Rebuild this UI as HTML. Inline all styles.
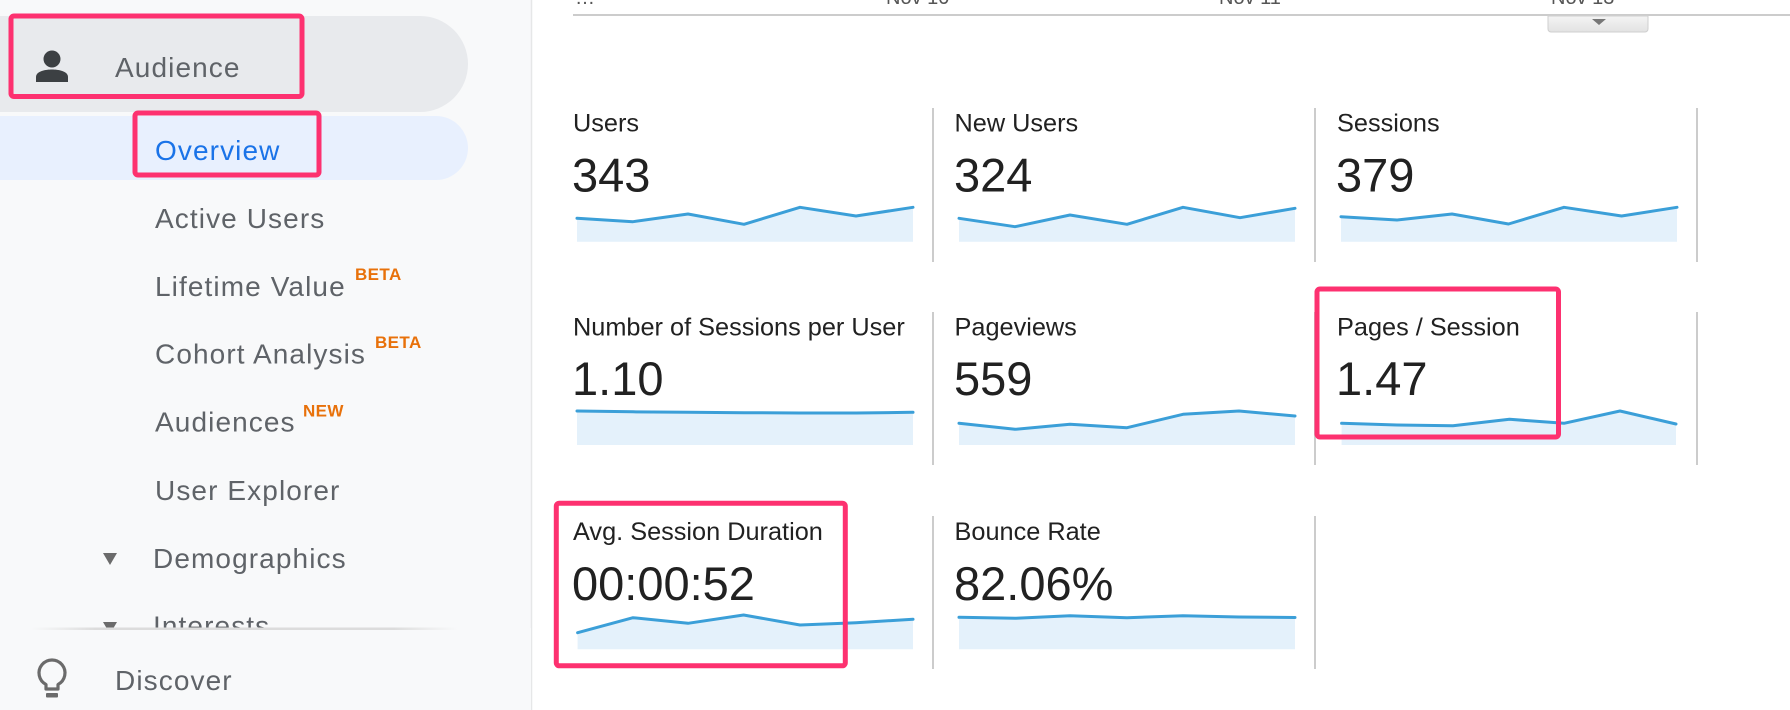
<!DOCTYPE html>
<html>
<head>
<meta charset="utf-8">
<style>
html,body{margin:0;padding:0;background:#fff;}
body{width:1790px;height:710px;overflow:hidden;}
svg{display:block;}
.side{font-family:"Liberation Sans",Arial,sans-serif;font-size:28px;letter-spacing:1.1px;fill:#5f6368;}
.badge{font-family:"Liberation Sans",Arial,sans-serif;font-size:17px;font-weight:bold;letter-spacing:0.4px;fill:#e8710a;}
.lbl{font-family:"Liberation Sans",Arial,sans-serif;font-size:25.3px;fill:#212121;}
.val{font-family:"Liberation Sans",Arial,sans-serif;font-size:47px;fill:#212121;}
.ax{font-family:"Liberation Sans",Arial,sans-serif;font-size:20px;fill:#555;}
.area{fill:#e4f1fb;stroke:none;}
.ln{fill:none;stroke:#3b9fd8;stroke-width:3;stroke-linejoin:round;stroke-linecap:round;}
.dv{stroke:#cccccc;stroke-width:2;}
.rb{fill:none;stroke:#fd3170;stroke-width:5;}
</style>
</head>
<body>
<svg width="1790" height="710" viewBox="0 0 1790 710" xmlns="http://www.w3.org/2000/svg">
  <defs>
    <linearGradient id="sh" x1="0" x2="1" y1="0" y2="0">
      <stop offset="0" stop-color="#e2e2e2" stop-opacity="0"/>
      <stop offset="0.15" stop-color="#dcdcdc" stop-opacity="1"/>
      <stop offset="0.85" stop-color="#dcdcdc" stop-opacity="1"/>
      <stop offset="1" stop-color="#e2e2e2" stop-opacity="0"/>
    </linearGradient>
    <linearGradient id="tab" x1="0" x2="0" y1="0" y2="1">
      <stop offset="0" stop-color="#f4f4f4"/>
      <stop offset="1" stop-color="#e2e2e2"/>
    </linearGradient>
  </defs>

  <!-- backgrounds -->
  <rect x="0" y="0" width="1790" height="710" fill="#ffffff"/>
  <rect x="0" y="0" width="531" height="710" fill="#f8f9fa"/>
  <line x1="531.5" y1="0" x2="531.5" y2="710" stroke="#e6e7e8" stroke-width="1.5"/>

  <!-- sidebar pills -->
  <path d="M0 16 H420 A48 48 0 0 1 420 112 H0 Z" fill="#e8eaed"/>
  <path d="M0 116 H436 A32 32 0 0 1 436 180 H0 Z" fill="#e8f0fe"/>

  <!-- person icon -->
  <circle cx="52" cy="59" r="8.5" fill="#3c4043"/>
  <path d="M36 82 V77 C36 71 46 69.5 52 69.5 C58 69.5 68 71 68 77 V82 Z" fill="#3c4043"/>

  <!-- sidebar texts -->
  <text class="side" x="115" y="77">Audience</text>
  <text class="side" x="155" y="160" style="fill:#1a73e8">Overview</text>
  <text class="side" x="155" y="228">Active Users</text>
  <text class="side" x="155" y="296">Lifetime Value</text>
  <text class="badge" x="355" y="280">BETA</text>
  <text class="side" x="155" y="363.5">Cohort Analysis</text>
  <text class="badge" x="375" y="348">BETA</text>
  <text class="side" x="155" y="431.5">Audiences</text>
  <text class="badge" x="303" y="416.5">NEW</text>
  <text class="side" x="155" y="500">User Explorer</text>
  <polygon points="103,553 117,553 110,565" fill="#6b6b6b"/>
  <text class="side" x="153" y="568">Demographics</text>
  <polygon points="103,622 117,622 110,634" fill="#6b6b6b"/>
  <text class="side" x="153" y="635.5">Interests</text>

  <!-- cover below interests -->
  <rect x="0" y="628" width="531" height="82" fill="#f8f9fa"/>
  <rect x="31" y="627.5" width="427" height="2.5" fill="url(#sh)"/>

  <!-- bulb icon -->
  <path d="M46 689 V684.5 A13 13 0 1 1 58 684.5 V689 Z" fill="none" stroke="#6b6b6b" stroke-width="3.2" stroke-linejoin="round"/>
  <rect x="46" y="693" width="12" height="4.5" rx="1" fill="#6b6b6b"/>
  <text class="side" x="115" y="690">Discover</text>

  <!-- top axis -->
  <text class="ax" x="575" y="4">…</text>
  <text class="ax" x="886" y="4">Nov 10</text>
  <text class="ax" x="1219" y="4">Nov 11</text>
  <text class="ax" x="1551" y="4">Nov 13</text>
  <line x1="573" y1="15" x2="1790" y2="15" stroke="#cccccc" stroke-width="2"/>
  <path d="M1548 16 H1648 V29 A3 3 0 0 1 1645 32 H1551 A3 3 0 0 1 1548 29 Z" fill="url(#tab)" stroke="#cfcfcf" stroke-width="1"/>
  <polygon points="1592,19 1606,19 1599,25" fill="#777"/>

  <!-- dividers -->
  <line class="dv" x1="933" y1="108" x2="933" y2="262"/>
  <line class="dv" x1="1315" y1="108" x2="1315" y2="262"/>
  <line class="dv" x1="1697" y1="108" x2="1697" y2="262"/>
  <line class="dv" x1="933" y1="312" x2="933" y2="465"/>
  <line class="dv" x1="1315" y1="312" x2="1315" y2="465"/>
  <line class="dv" x1="1697" y1="312" x2="1697" y2="465"/>
  <line class="dv" x1="933" y1="516" x2="933" y2="669"/>
  <line class="dv" x1="1315" y1="516" x2="1315" y2="669"/>

  <!-- Row 1 -->
  <text class="lbl" x="573" y="131.7">Users</text>
  <text class="val" x="572" y="191.7">343</text>
  <path class="area" d="M577 218.3 L633 221.7 L688 214 L744 224.3 L800 207.3 L856 216 L913 207.3 L913 241.7 L577 241.7 Z"/>
  <path class="ln" d="M577 218.3 L633 221.7 L688 214 L744 224.3 L800 207.3 L856 216 L913 207.3"/>

  <text class="lbl" x="954.5" y="131.7">New Users</text>
  <text class="val" x="954" y="191.7">324</text>
  <path class="area" d="M959 218.3 L1015 226.7 L1070 215 L1127 224.3 L1183 207.3 L1240 217.7 L1295 208.3 L1295 241.7 L959 241.7 Z"/>
  <path class="ln" d="M959 218.3 L1015 226.7 L1070 215 L1127 224.3 L1183 207.3 L1240 217.7 L1295 208.3"/>

  <text class="lbl" x="1337" y="131.7">Sessions</text>
  <text class="val" x="1336" y="191.7">379</text>
  <path class="area" d="M1341 216.7 L1397 220 L1452 214 L1508.5 224 L1564 207.3 L1621.6 216 L1677 207.3 L1677 241.7 L1341 241.7 Z"/>
  <path class="ln" d="M1341 216.7 L1397 220 L1452 214 L1508.5 224 L1564 207.3 L1621.6 216 L1677 207.3"/>

  <!-- Row 2 -->
  <text class="lbl" x="573" y="335.5">Number of Sessions per User</text>
  <text class="val" x="572" y="395">1.10</text>
  <path class="area" d="M577 411 L633 411.8 L688 412.3 L744 412.7 L800 413 L856 413 L913 412.3 L913 445 L577 445 Z"/>
  <path class="ln" d="M577 411 L633 411.8 L688 412.3 L744 412.7 L800 413 L856 413 L913 412.3"/>

  <text class="lbl" x="954.5" y="335.5">Pageviews</text>
  <text class="val" x="954" y="395">559</text>
  <path class="area" d="M959 423.3 L1015 429.3 L1070 424.3 L1127 427.7 L1183 414.3 L1239 411 L1295 416 L1295 445 L959 445 Z"/>
  <path class="ln" d="M959 423.3 L1015 429.3 L1070 424.3 L1127 427.7 L1183 414.3 L1239 411 L1295 416"/>

  <text class="lbl" x="1337" y="335.5">Pages / Session</text>
  <text class="val" x="1336" y="395">1.47</text>
  <path class="area" d="M1341.6 423.3 L1397 425 L1453 425.7 L1509.5 419.3 L1564 423.3 L1620 411 L1676 424 L1676 445 L1341.6 445 Z"/>
  <path class="ln" d="M1341.6 423.3 L1397 425 L1453 425.7 L1509.5 419.3 L1564 423.3 L1620 411 L1676 424"/>

  <!-- Row 3 -->
  <text class="lbl" x="573" y="540">Avg. Session Duration</text>
  <text class="val" x="572" y="600">00:00:52</text>
  <path class="area" d="M577.6 632.7 L633 617.7 L688 623.3 L743.6 615 L800 625 L856 622.7 L913 619.3 L913 649.3 L577.6 649.3 Z"/>
  <path class="ln" d="M577.6 632.7 L633 617.7 L688 623.3 L743.6 615 L800 625 L856 622.7 L913 619.3"/>

  <text class="lbl" x="954.5" y="540">Bounce Rate</text>
  <text class="val" x="954" y="600">82.06%</text>
  <path class="area" d="M959 617.3 L1015 618.3 L1070 615.7 L1127 617.7 L1183 615.7 L1239 617 L1295 617.5 L1295 649.3 L959 649.3 Z"/>
  <path class="ln" d="M959 617.3 L1015 618.3 L1070 615.7 L1127 617.7 L1183 615.7 L1239 617 L1295 617.5"/>

  <!-- red highlight boxes -->
  <rect class="rb" x="11" y="16" width="291" height="80.5" rx="3"/>
  <rect class="rb" x="135" y="113" width="184" height="62" rx="3"/>
  <rect class="rb" x="1317" y="289" width="241.5" height="148" rx="3"/>
  <rect class="rb" x="556.3" y="503.2" width="289" height="162.6" rx="3"/>
</svg>
</body>
</html>
